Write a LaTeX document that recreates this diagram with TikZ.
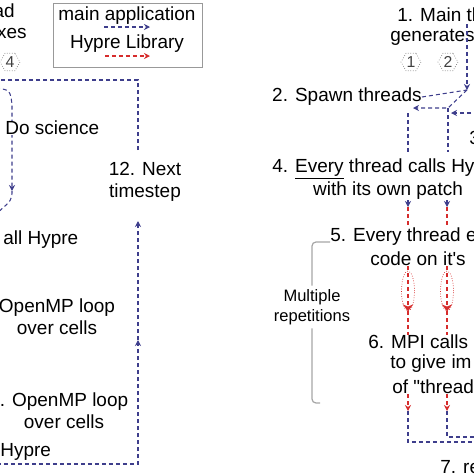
\documentclass[tikz,border=0pt]{standalone}
\usepackage{fontspec}
\setmainfont{Liberation Sans}
\usetikzlibrary{arrows.meta,shapes.geometric}

\definecolor{appblue}{RGB}{62,62,140}
\definecolor{libred}{RGB}{214,44,44}

\begin{document}
\begin{tikzpicture}[
        x=0.02cm, y=-0.02cm,
        font=\fontsize{10.8}{12.5}\selectfont,
        >={Stealth[length=3.4pt,width=3.4pt]},
        every node/.style={inner sep=0pt},
        app/.style={appblue, line width=0.6pt, dash pattern=on 0.08cm off 0.06cm},
        lib/.style={libred, line width=0.6pt, dash pattern=on 0.08cm off 0.06cm},
        hexnum/.style={regular polygon, regular polygon sides=6, draw=gray, densely dotted,
          minimum size=0.4cm, font=\fontsize{9}{10}\selectfont, text=darkgray},
        loopcap/.style={ellipse, draw=libred, densely dotted, minimum width=0.26cm, minimum height=0.8cm},
        bracket/.style={gray!70, line width=0.7pt, rounded corners=0.08cm}
      ]

      \useasboundingbox (0,0) rectangle (474,474);

      % legend
      \node[draw=gray!80, line width=0.5pt, minimum width=2.98cm, minimum height=1.28cm] (legend) at (127.5,35) {};
      \node (appTxt) at (127,16) {main application};
      \node (libTxt) at (127,44) {Hypre Library};
      \coordinate (appA) at (104,27);
      \coordinate (appB) at (150,27);
      \coordinate (libA) at (105,56);
      \coordinate (libB) at (150,56);
      \draw[app,->] (appA) -- (appB);
      \draw[lib,->] (libA) -- (libB);

      % left: time loop
      \node[anchor=east] (partA) at (15,11) {ad};
      \node[anchor=east] (partB) at (27,33) {xes};
      \node[hexnum] (hex4) at (10,62) {4};

      \coordinate (loopBL) at (-3,464);
      \coordinate (loopBR) at (138,464);
      \coordinate (loopMid) at (138,340);
      \coordinate (nextIn) at (138,221);
      \coordinate (nextOut) at (138,150);
      \coordinate (loopTL) at (-3,80);
      \node[align=center] (next) at (145,182) {12. Next\\timestep};
      \draw[app,->] (loopBL) -- (loopBR) -- (loopMid);
      \draw[app,->] (loopMid) -- (nextIn);
      \draw[app] (nextOut) |- (loopTL);

      \coordinate (sciIn) at (-4,88);
      \coordinate (sciTip) at (12,191);
      \coordinate (sciOut) at (-4,214);
      \draw[app,->] (sciIn) .. controls (10,90) .. (12,104) -- (sciTip);
      \draw[app] (sciTip) .. controls (12,200) .. (sciOut);
      \node[anchor=west, fill=white] (sci) at (5,128) {Do science};

      \node[anchor=west] (callHypre) at (3,240) {all Hypre};
      \node[align=center] (ompA) at (57,317) {OpenMP loop\\over cells};
      \node[align=center] (ompB) at (64,411) {. OpenMP loop\\over cells};
      \node[anchor=west] (hypre) at (0,452) {Hypre};

      % right: threads
      \node[anchor=west] (mainA) at (397,15) {1. Main th};
      \node[anchor=west] (mainB) at (390,37) {generates};
      \node[hexnum] (hex1) at (411,62) {1};
      \node[hexnum] (hex2) at (448,62) {2};
      \node[anchor=east] (spawn) at (422,97) {2. Spawn threads};

      \coordinate (mainTop) at (467,24);
      \coordinate (mainTip) at (467,90);
      \coordinate (split) at (448,108);
      \coordinate (laneAin) at (413,108);
      \coordinate (laneAtop) at (408,113);
      \coordinate (laneAbot) at (408,152);
      \coordinate (laneBbot) at (448,152);
      \coordinate (fromRight) at (478,113);
      \coordinate (laneBin) at (451,113);
      \draw[app,->] (mainTop) -- (mainTip);
      \draw[app] (spawn.east) -- (mainTip);
      \draw[app,->] (mainTip) -- (split) -- (laneAin);
      \draw[app] (laneAtop) -- (laneAbot);
      \draw[app] (split) -- (laneBbot);
      \draw[app,->] (fromRight) -- (laneBin);
      \node[anchor=west] (stepThree) at (469,138) {3};

      \node[anchor=west] (everyA) at (272,169) {4. \underline{Every} thread calls Hy};
      \node (everyB) at (388,191) {with its own patch};
      \coordinate (a4) at (408,207);
      \coordinate (b4) at (447,207);
      \coordinate (a5) at (408,226);
      \coordinate (b5) at (447,226);
      \draw[app,->] (everyB.south -| a4) -- (a4);
      \draw[app,->] (everyB.south -| b4) -- (b4);
      \draw[lib] (a4) -- (a5);
      \draw[lib] (b4) -- (b5);

      \node[anchor=west] (execA) at (330,237) {5. Every thread e};
      \node (execB) at (418,259) {code on it\textquotesingle s};

      % repetitions bracket
      \coordinate (brTop) at (330,242);
      \coordinate (brBot) at (320,403);
      \node[align=center, font=\fontsize{9.4}{11.3}\selectfont] (multi) at (312,307) {Multiple\\repetitions};
      \draw[bracket] (brTop) -| ([yshift=2pt]multi.north);
      \draw[bracket] ([yshift=-2pt]multi.south) |- (brBot);

      \node[loopcap] (capA) at (408,291) {};
      \node[loopcap] (capB) at (447,291) {};
      \draw[lib,-{Stealth[length=4pt,width=6pt]}] (execB.south -| capA) -- (capA.south);
      \draw[lib,-{Stealth[length=4pt,width=6pt]}] (execB.south -| capB) -- (capB.south);

      \node[anchor=west] (mpiA) at (368,342) {6. MPI calls};
      \node[anchor=west] (mpiB) at (390,364) {to give im};
      \node[anchor=west] (mpiC) at (392,387) {of \textquotedbl thread};
      \draw[lib] (capA.south) -- (mpiA.north -| capA);
      \draw[lib] (capB.south) -- (mpiA.north -| capB);

      \coordinate (aTip) at (408,411);
      \coordinate (bTip) at (447,411);
      \coordinate (outA) at (478,442);
      \coordinate (outB) at (478,437);
      \draw[lib,->] (mpiC.south -| aTip) -- (aTip);
      \draw[lib,->] (mpiC.south -| bTip) -- (bTip);
      \draw[app] (aTip) |- (outA);
      \draw[app] (bTip) |- (outB);

      \node[anchor=west] (reduce) at (440,467) {7. re};

    \end{tikzpicture}
\end{document}
